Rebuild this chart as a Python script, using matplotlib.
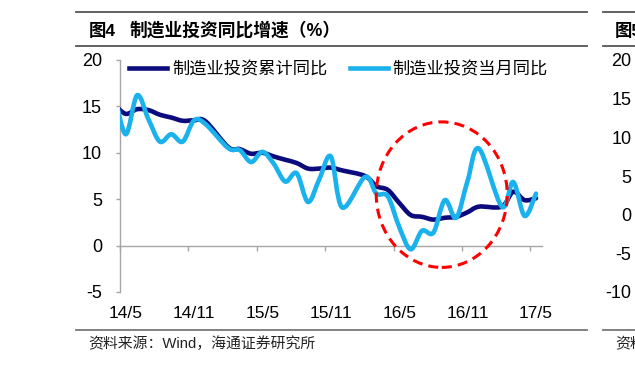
import numpy as np
import pandas as pd
import matplotlib
matplotlib.use("Agg")
import matplotlib.pyplot as plt
from matplotlib.path import Path
from matplotlib.patches import PathPatch, Ellipse
from matplotlib.lines import Line2D

plt.rcParams['font.family'] = ['Liberation Sans', 'Noto Sans CJK SC']

# ---------------- data ----------------
months = pd.period_range('2014-04', '2017-05', freq='M').strftime('%Y-%m').tolist()
cum_yoy = [15.2, 14.2, 14.7, 14.6, 14.1, 13.8, 13.45, 13.5, 13.4,
           np.nan, 10.6, 10.4, 9.9, 10.0, 9.6, 9.25, 8.9, 8.3, 8.3, 8.4, 8.1,
           np.nan, 7.5, 6.4, 6.0, 4.6, 3.3, 3.1, 2.8, 3.0, 3.1, 3.6, 4.2,
           np.nan, 4.2, 5.8, 4.9, 5.1]
mon_yoy = [16.5, 12.0, 16.2, 13.6, 11.2, 12.0, 11.2, 13.5, 13.1,
           np.nan, 10.5, 10.3, 9.0, 10.1, 8.8, 6.9, 7.8, 4.7, 7.2, 9.6, 4.1,
           np.nan, 7.4, 5.6, 5.3, 2.0, -0.4, 1.6, 1.4, 4.9, 3.0, 7.0, 10.45,
           np.nan, 4.2, 6.85, 3.2, 5.6]
tick_labels = ['14/5', '14/11', '15/5', '15/11', '16/5', '16/11', '17/5']
y_ticks = [-5, 0, 5, 10, 15, 20]
right_y_ticks = [20, 15, 10, 5, 0, -5, -10]
series_names = ['制造业投资累计同比', '制造业投资当月同比']
title_num = '图4'
title_txt = '制造业投资同比增速（%）'
source_txt = '资料来源：Wind，海通证券研究所'

# x position: month index relative to 2014-05 tick, centered in the month
x = np.arange(len(months)) - 1 + 0.5

W, H = 635, 374
fig = plt.figure(figsize=(W / 100, H / 100), dpi=100)

def fx(px):
    return px / W

def fy(py):
    return 1 - py / H

AX_L, AX_R, AX_T, AX_B = 120, 541.7, 60, 292
ax = fig.add_axes([fx(AX_L), fy(AX_B), fx(AX_R) - fx(AX_L), fy(AX_T) - fy(AX_B)])
ax.set_xlim(0, 37)
ax.set_ylim(-5, 20)

grey = '#A6A6A6'
for s in ['top', 'right']:
    ax.spines[s].set_visible(False)
ax.spines['left'].set_color(grey)
ax.spines['left'].set_linewidth(1.0)
ax.spines['bottom'].set_position(('data', 0))
ax.spines['bottom'].set_color(grey)
ax.spines['bottom'].set_linewidth(1.0)

ax.set_yticks(y_ticks)
ax.set_yticklabels([str(v) for v in y_ticks])
ax.tick_params(axis='y', direction='out', length=3, width=1, color=grey,
               labelsize=13, pad=10, labelcolor='black')
ax.set_xticks(np.arange(0, 37, 6))
ax.tick_params(axis='x', direction='out', length=3.6, width=1, color=grey,
               labelbottom=False)

# tick labels at bottom of plot
sec = ax.secondary_xaxis(0)
sec.set_xticks(np.arange(0, 37, 6) + 0.5)
sec.set_xticklabels(tick_labels)
sec.tick_params(length=0, labelsize=12.5, pad=10, labelcolor='black')
sec.spines['bottom'].set_visible(False)


def smooth_path(xs, ys):
    pts = np.array([(a, b) for a, b in zip(xs, ys) if not np.isnan(b)])
    n = len(pts)
    verts = [pts[0]]
    codes = [Path.MOVETO]
    for i in range(n - 1):
        p0 = pts[i - 1] if i > 0 else pts[i]
        p1 = pts[i]
        p2 = pts[i + 1]
        p3 = pts[i + 2] if i + 2 < n else pts[i + 1]
        c1 = p1 + (p2 - p0) / 6.0
        c2 = p2 - (p3 - p1) / 6.0
        verts += [c1, c2, p2]
        codes += [Path.CURVE4] * 3
    return Path(verts, codes)

dark = '#0B0B7D'
light = '#1AB2EC'
ax.add_patch(PathPatch(smooth_path(x, np.array(cum_yoy)), fill=False,
                       edgecolor=dark, lw=3.3, capstyle='round',
                       joinstyle='round', zorder=3))
ax.add_patch(PathPatch(smooth_path(x, np.array(mon_yoy)), fill=False,
                       edgecolor=light, lw=3.3, capstyle='round',
                       joinstyle='round', zorder=4))

ell = Ellipse((28.23, 5.49), 11.49, 15.68, fill=False, edgecolor='#FF0000',
              lw=2.2, linestyle=(0, (3.3, 2.0)), zorder=5)
ax.add_patch(ell)

handles = [Line2D([], [], color=dark, lw=3.3),
           Line2D([], [], color=light, lw=3.3)]
ax_w = AX_R - AX_L
ax_h = AX_B - AX_T
leg = ax.legend(handles, series_names, loc='upper left', ncol=2,
                bbox_to_anchor=((129 - AX_L) / ax_w, 1.0 - 1.0 / ax_h),
                bbox_transform=ax.transAxes,
                frameon=False, fontsize=12.4, handlelength=2.2,
                handletextpad=0.3, columnspacing=1.3, borderaxespad=0.0,
                borderpad=0.0)

# header / footer rules
line_col = '#555555'
for yy in [12.3, 46]:
    fig.add_artist(Line2D([fx(76), fx(587)], [fy(yy), fy(yy)], color=line_col, lw=1.3))
    fig.add_artist(Line2D([fx(603), fx(640)], [fy(yy), fy(yy)], color=line_col, lw=1.3))
fig.add_artist(Line2D([fx(76), fx(587)], [fy(330), fy(330)], color='#777777', lw=1.3))
fig.add_artist(Line2D([fx(603), fx(640)], [fy(330), fy(330)], color='#777777', lw=1.3))

fig.text(fx(89), fy(30.5), title_num, fontsize=12.5, fontweight='bold',
         va='center', ha='left', color='black')
fig.text(fx(130), fy(30.5), title_txt, fontsize=12.8, fontweight='bold',
         va='center', ha='left', color='black')
fig.text(fx(88), fy(344), source_txt, fontsize=10.7, va='center', ha='left',
         color='#222222')

# partial neighbouring chart at right edge (cut off by the page edge, as in the source)
fig.text(fx(615), fy(30.5), '图5', fontsize=12.5, fontweight='bold',
         va='center', ha='left', color='black')
fig.text(fx(615), fy(344), source_txt, fontsize=10.7, va='center', ha='left',
         color='#222222')
ax2 = fig.add_axes([fx(637), fy(292), 0.2, fy(60) - fy(292)])
ax2.set_ylim(-10, 20)
ax2.set_yticks(right_y_ticks)
ax2.set_yticklabels([str(v) for v in right_y_ticks])
ax2.tick_params(axis='y', length=0, labelsize=13, pad=4)
ax2.set_xticks([])
for s in ax2.spines.values():
    s.set_visible(False)
ax2.patch.set_visible(False)

fig.savefig('out.png', dpi=100)
